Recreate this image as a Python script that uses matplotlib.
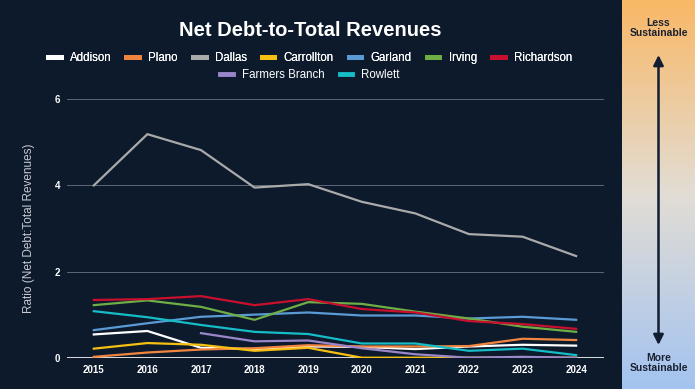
import numpy as np
import matplotlib
matplotlib.use('Agg')
import matplotlib.pyplot as plt
from matplotlib import font_manager
from matplotlib.lines import Line2D
from matplotlib.colors import LinearSegmentedColormap

# font: narrow Arial-like if we have it
names = set(f.name for f in font_manager.fontManager.ttflist)
narrow = 'Liberation Sans Narrow' if 'Liberation Sans Narrow' in names else 'Liberation Sans'
plt.rcParams['font.family'] = ['Liberation Sans', 'DejaVu Sans']

years = [2015, 2016, 2017, 2018, 2019, 2020, 2021, 2022, 2023, 2024]

addison = [0.54, 0.62, 0.23, 0.20, 0.26, 0.25, 0.20, 0.26, 0.30, 0.28]
plano = [0.02, 0.12, 0.19, 0.22, 0.29, 0.26, 0.26, 0.27, 0.44, 0.41]
dallas = [4.00, 5.19, 4.82, 3.95, 4.03, 3.62, 3.35, 2.87, 2.81, 2.36]
carrollton = [0.21, 0.34, 0.30, 0.16, 0.23, 0.0, 0.0, 0.0, 0.0, 0.0]
garland = [0.64, 0.80, 0.95, 1.00, 1.05, 0.98, 0.98, 0.91, 0.95, 0.88]
irving = [1.22, 1.33, 1.18, 0.88, 1.29, 1.25, 1.07, 0.91, 0.72, 0.60]
richardson = [1.34, 1.36, 1.43, 1.22, 1.36, 1.13, 1.05, 0.85, 0.78, 0.67]
farmers_branch = [np.nan, np.nan, 0.57, 0.38, 0.40, 0.22, 0.08, 0.0, 0.02, 0.0]
rowlett = [1.08, 0.94, 0.76, 0.60, 0.55, 0.33, 0.33, 0.16, 0.21, 0.06]

cities = ['Addison', 'Plano', 'Dallas', 'Carrollton', 'Garland', 'Irving',
          'Richardson', 'Farmers Branch', 'Rowlett']
series = [addison, plano, dallas, carrollton, garland, irving,
          richardson, farmers_branch, rowlett]
colors = ['#ffffff', '#f0853f', '#aaaaaa', '#f5c013', '#5b9bd5', '#6fae45',
          '#c8102e', '#9a87c9', '#16bcc6']

bg = '#0c1a2c'
W, H = 695, 389
fig = plt.figure(figsize=(W / 100, H / 100), dpi=100, facecolor=bg)

# main plot
ax = fig.add_axes([67 / W, 1 - 357.7 / H, (604 - 67) / W, (357.7 - 99.3) / H])
ax.set_facecolor(bg)
for s, c in zip(series, colors):
    ax.plot(years, s, color=c, lw=1.6, solid_joinstyle='miter')

ax.set_xlim(2014.5, 2024.52)
ax.set_ylim(0, 6)
ax.set_yticks([0, 2, 4, 6])
ax.set_xticks(years)
for v in [2, 4, 6]:
    ax.axhline(v, color='#5d6777', lw=0.7, zorder=0)
ax.axhline(0, color='#ffffff', lw=1.2, zorder=0.5)
for sp in ax.spines.values():
    sp.set_visible(False)
ax.tick_params(length=0, colors='white', labelsize=7, pad=5)
for lab in ax.get_xticklabels() + ax.get_yticklabels():
    lab.set_fontweight('bold')
ax.set_ylabel('Ratio (Net Debt:Total Revenues)', color='#c8ccd2', fontsize=8.5, labelpad=14)

# title
fig.text(310 / W, 1 - 30 / H, 'Net Debt-to-Total Revenues', color='white',
         fontsize=14.5, fontweight='bold', family=narrow, ha='center', va='center')

# legend, two rows
def handles(idx):
    return [Line2D([], [], color=colors[i], lw=3.5) for i in idx]

leg_kw = dict(ncol=7, loc='center', frameon=False, fontsize=8.3,
              handlelength=1.1, handletextpad=0.8, columnspacing=1.3,
              labelcolor='white', borderpad=0)
leg1 = fig.legend(handles(range(7)), cities[:7],
                  bbox_to_anchor=(310 / W, 1 - 58 / H), **leg_kw)
fig.legend(handles([7, 8]), cities[7:],
           bbox_to_anchor=(310 / W, 1 - 75 / H), **leg_kw)
fig.add_artist(leg1)

# right side gradient panel
pan = fig.add_axes([622 / W, 0, (W - 622) / W, 1])
cmap = LinearSegmentedColormap.from_list('sus', ['#f9b866', '#e2ddd5', '#a3c3f0'])
pan.imshow(np.linspace(0, 1, 256).reshape(-1, 1), cmap=cmap, aspect='auto',
           extent=[0, 1, 0, 1])
pan.set_xlim(0, 1)
pan.set_ylim(0, 1)
pan.axis('off')
pan.annotate('', xy=(0.5, 1 - 55 / H), xytext=(0.5, 1 - 345 / H),
             arrowprops=dict(arrowstyle='<|-|>', color='#111d30', lw=1.8,
                             mutation_scale=15, shrinkA=0, shrinkB=0))
pan.text(0.5, 1 - 28 / H, 'Less\nSustainable', ha='center', va='center',
         fontsize=7.5, fontweight='bold', color='#1a2232', linespacing=1.0)
pan.text(0.5, 1 - 363 / H, 'More\nSustainable', ha='center', va='center',
         fontsize=7.5, fontweight='bold', color='#1a2232', linespacing=1.0)

fig.savefig('out.png', dpi=100, facecolor=bg)
